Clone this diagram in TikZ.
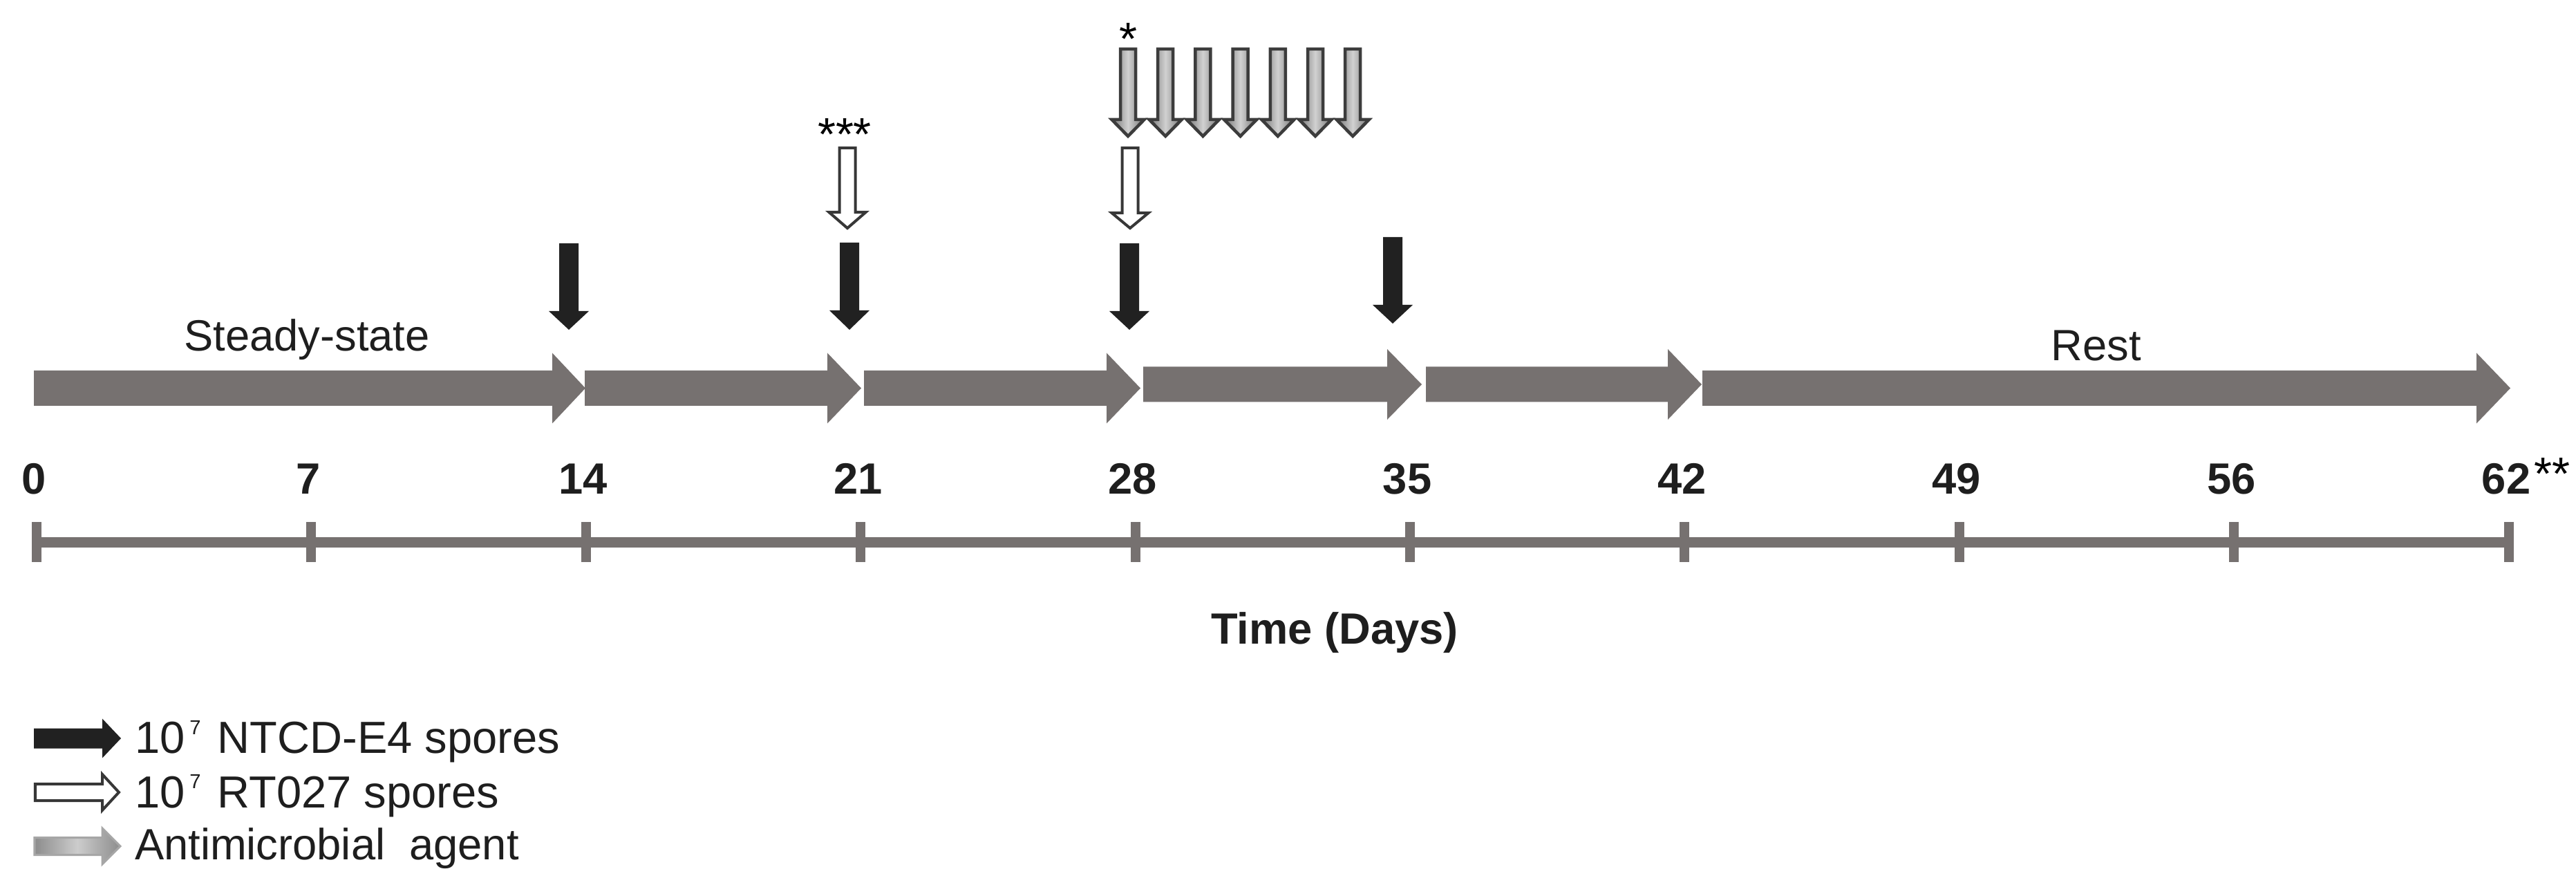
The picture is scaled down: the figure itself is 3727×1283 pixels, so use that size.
\documentclass[tikz,border=0pt]{standalone}
\usepackage{fontspec}
\setmainfont{Liberation Sans}
\definecolor{bandc}{RGB}{118,113,112}
\definecolor{inkc}{RGB}{30,30,30}
\definecolor{blkc}{RGB}{33,33,33}
\definecolor{edgec}{RGB}{55,55,55}
\definecolor{agedge}{RGB}{60,60,60}
% vertical down arrow: style, cx, top, headbase, tip, half body, half head
\newcommand{\DArrow}[7]{%
  \path[#1] ({#2-#6},#3) -- ({#2+#6},#3) -- ({#2+#6},#4) -- ({#2+#7},#4) -- (#2,#5)
    -- ({#2-#7},#4) -- ({#2-#6},#4) -- cycle;}
% horizontal right arrow: style, xstart, headbase, tip, cy, half body, half head
\newcommand{\RArrow}[7]{%
  \path[#1] (#2,{#5-#6}) -- (#3,{#5-#6}) -- (#3,{#5-#7}) -- (#4,#5)
    -- (#3,{#5+#7}) -- (#3,{#5+#6}) -- (#2,{#5+#6}) -- cycle;}
\newcommand{\supseven}{\kern0.07cm\raisebox{7.7pt}{\fontsize{8.3}{9}\selectfont 7}\kern0.06cm}
\begin{document}
\begin{tikzpicture}[x=0.01cm,y=-0.01cm,
  bandarrow/.style={fill=bandc},
  spore/.style={fill=blkc},
  rtspore/.style={fill=white,draw=edgec,line width=0.04cm},
  agent/.style={draw=agedge,line width=0.045cm,left color=black!55,right color=black!55,middle color=black!18},
  agentleg/.style={draw=black!35,line width=0.03cm,left color=black!45,right color=black!45,middle color=black!20},
  axisc/.style={draw=bandc},
  lbl/.style={font=\fontsize{18}{21}\selectfont,text=inkc,inner sep=0pt,outer sep=0pt},
  leglbl/.style={font=\fontsize{18.5}{21}\selectfont,text=inkc,inner sep=0pt,outer sep=0pt},
  boldlbl/.style={font=\bfseries\fontsize{18}{21}\selectfont,text=inkc,inner sep=0pt,outer sep=0pt},
  starlbl/.style={font=\fontsize{19}{21}\selectfont,text=black,inner sep=0pt,outer sep=0pt}
]
\useasboundingbox (0,0) rectangle (3727,1283);

% timeline band arrows
\RArrow{bandarrow}{49}{799}{847}{561.5}{25.5}{51}
\RArrow{bandarrow}{846}{1197}{1246}{561.5}{25.5}{51}
\RArrow{bandarrow}{1250}{1601}{1650}{561.5}{25.5}{51}
\RArrow{bandarrow}{1654}{2007}{2057}{556}{25.5}{51}
\RArrow{bandarrow}{2063}{2413}{2462}{556}{25.5}{51}
\RArrow{bandarrow}{2463}{3583}{3632}{561.5}{25.5}{51}

\node[lbl,anchor=base] (steady) at (444,508) {Steady-state};
\node[lbl,anchor=base] (rest) at (3033,522) {Rest};

% black spore arrows
\DArrow{spore}{823}{352}{450}{477}{14}{29}
\DArrow{spore}{1229}{351}{449}{477}{14}{29}
\DArrow{spore}{1634}{352}{450}{477}{14}{29}
\DArrow{spore}{2015}{343}{441}{468}{14}{29}

% white RT027 arrows
\DArrow{rtspore}{1226}{214}{307}{330}{11.5}{26.5}
\DArrow{rtspore}{1635}{214}{308}{330}{11.5}{26.5}

% antimicrobial arrows
\foreach \k in {0,...,6}{
  \DArrow{agent}{1632+54.2*\k}{71}{173}{197}{11}{23.5}
}

% stars
\node[starlbl,anchor=base] (star1) at (1632,80) {*};
\node[starlbl,anchor=base] (star3) at (1222,218) {***};

% axis
\draw[axisc,line width=0.15cm] (53,784.5) -- (3630,784.5);
\foreach \i in {0,...,9}{
  \draw[axisc,line width=0.14cm] ({53+397.4*\i},755) -- ({53+397.4*\i},813);
}
\foreach \i/\l in {0/0,1/7,2/14,3/21,4/28,5/35,6/42,7/49,8/56}{
  \node[boldlbl,anchor=base] (t\i) at ({53+397.4*\i-4},715) {\l};
}
\node[boldlbl,anchor=base] (t9) at (3626,715) {62};
\node[starlbl,anchor=base west] (star2) at ([xshift=0.05cm,yshift=0.06cm]t9.base east) {**};

\node[boldlbl,anchor=base] (timelbl) at (1931,932) {Time (Days)};

% legend
\RArrow{spore}{49}{148}{175}{1068}{14.5}{28.5}
\RArrow{rtspore}{51}{148}{172}{1146}{12}{26}
\RArrow{agentleg}{50}{148}{174}{1224}{12.5}{26}

\node[leglbl,anchor=base west] (leg1) at (195,1090) {10\supseven{} NTCD-E4 spores};
\node[leglbl,anchor=base west] (leg2) at (195,1168) {10\supseven{} RT027 spores};
\node[lbl,anchor=base west] (leg3) at (195,1243) {Antimicrobial\ \ agent};
\end{tikzpicture}
\end{document}
